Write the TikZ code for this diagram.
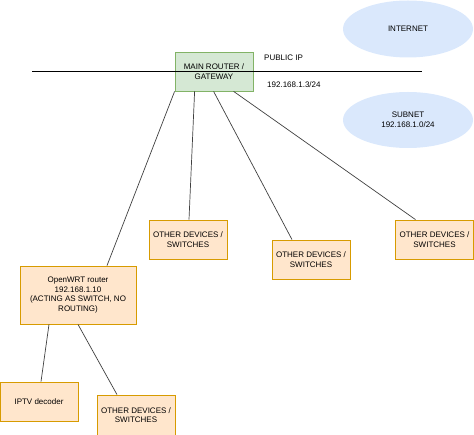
\documentclass[tikz,border=0pt]{standalone}
\usepackage{fontspec}
\setmainfont{Liberation Sans}
\usetikzlibrary{shapes.geometric}
\definecolor{gfill}{HTML}{D5E8D4}
\definecolor{gdraw}{HTML}{82B366}
\definecolor{ofill}{HTML}{FFE6CC}
\definecolor{odraw}{HTML}{D79B00}
\definecolor{efill}{HTML}{DAE8FC}
\definecolor{lcol}{HTML}{404040}
\begin{document}
\begin{tikzpicture}[x=1pt,y=-1pt,
  box/.style={draw=#1draw, fill=#1fill, line width=0.8pt, inner sep=0pt, align=center, font=\fontsize{8}{9.6}\selectfont},
  cloud/.style={ellipse, fill=efill, draw=none, inner sep=0pt, minimum width=130pt, minimum height=56pt, align=center, font=\fontsize{8}{9.6}\selectfont},
  lbl/.style={inner sep=0pt, font=\fontsize{8}{9.6}\selectfont},
  link/.style={draw=lcol, line width=0.7pt}]
\useasboundingbox (0,0) rectangle (474,435);
\node[box=g, minimum width=78pt, minimum height=39pt] (main) at (214,71.5) {MAIN ROUTER /\\GATEWAY};
\coordinate (hl) at (32,71);
\coordinate (hr) at (422,71);
\draw[line width=0.7pt] (hl) -- (hr);
\node[lbl, anchor=west] (pub) at (264,58) {PUBLIC IP};
\node[lbl, anchor=west] (ip) at (267,85) {192.168.1.3/24};
\node[cloud, minimum height=57pt] (inet) at (408,29) {INTERNET};
\node[cloud] (sub) at (408,120) {SUBNET\\192.168.1.0/24};
\node[box=o, minimum width=78pt, minimum height=39pt] (d1) at (188,239.5) {OTHER DEVICES /\\SWITCHES};
\node[box=o, minimum width=78pt, minimum height=39pt] (d2) at (311,259.5) {OTHER DEVICES /\\SWITCHES};
\node[box=o, minimum width=78pt, minimum height=39pt] (d3) at (434.5,239.5) {OTHER DEVICES /\\SWITCHES};
\node[box=o, minimum width=116pt, minimum height=58pt] (owrt) at (78,295) {OpenWRT router\\192.168.1.10\\(ACTING AS SWITCH, NO\\ROUTING)};
\node[box=o, minimum width=78pt, minimum height=39pt] (iptv) at (39,401.5) {IPTV decoder};
\node[box=o, minimum width=78pt, minimum height=40pt] (d4) at (136,415) {OTHER DEVICES /\\SWITCHES};
\draw[link] (main.south west) -- ([xshift=29pt]owrt.north);
\draw[link] ([xshift=20pt]main.south west) -- ([xshift=1pt]d1.north);
\draw[link] ([xshift=39pt]main.south west) -- ([xshift=-19pt]d2.north);
\draw[link] ([xshift=59pt]main.south west) -- ([xshift=-19pt]d3.north);
\draw[link] ([xshift=-29pt]owrt.south) -- ([xshift=2pt]iptv.north);
\draw[link] (owrt.south) -- ([xshift=-19pt]d4.north);
\end{tikzpicture}
\end{document}
